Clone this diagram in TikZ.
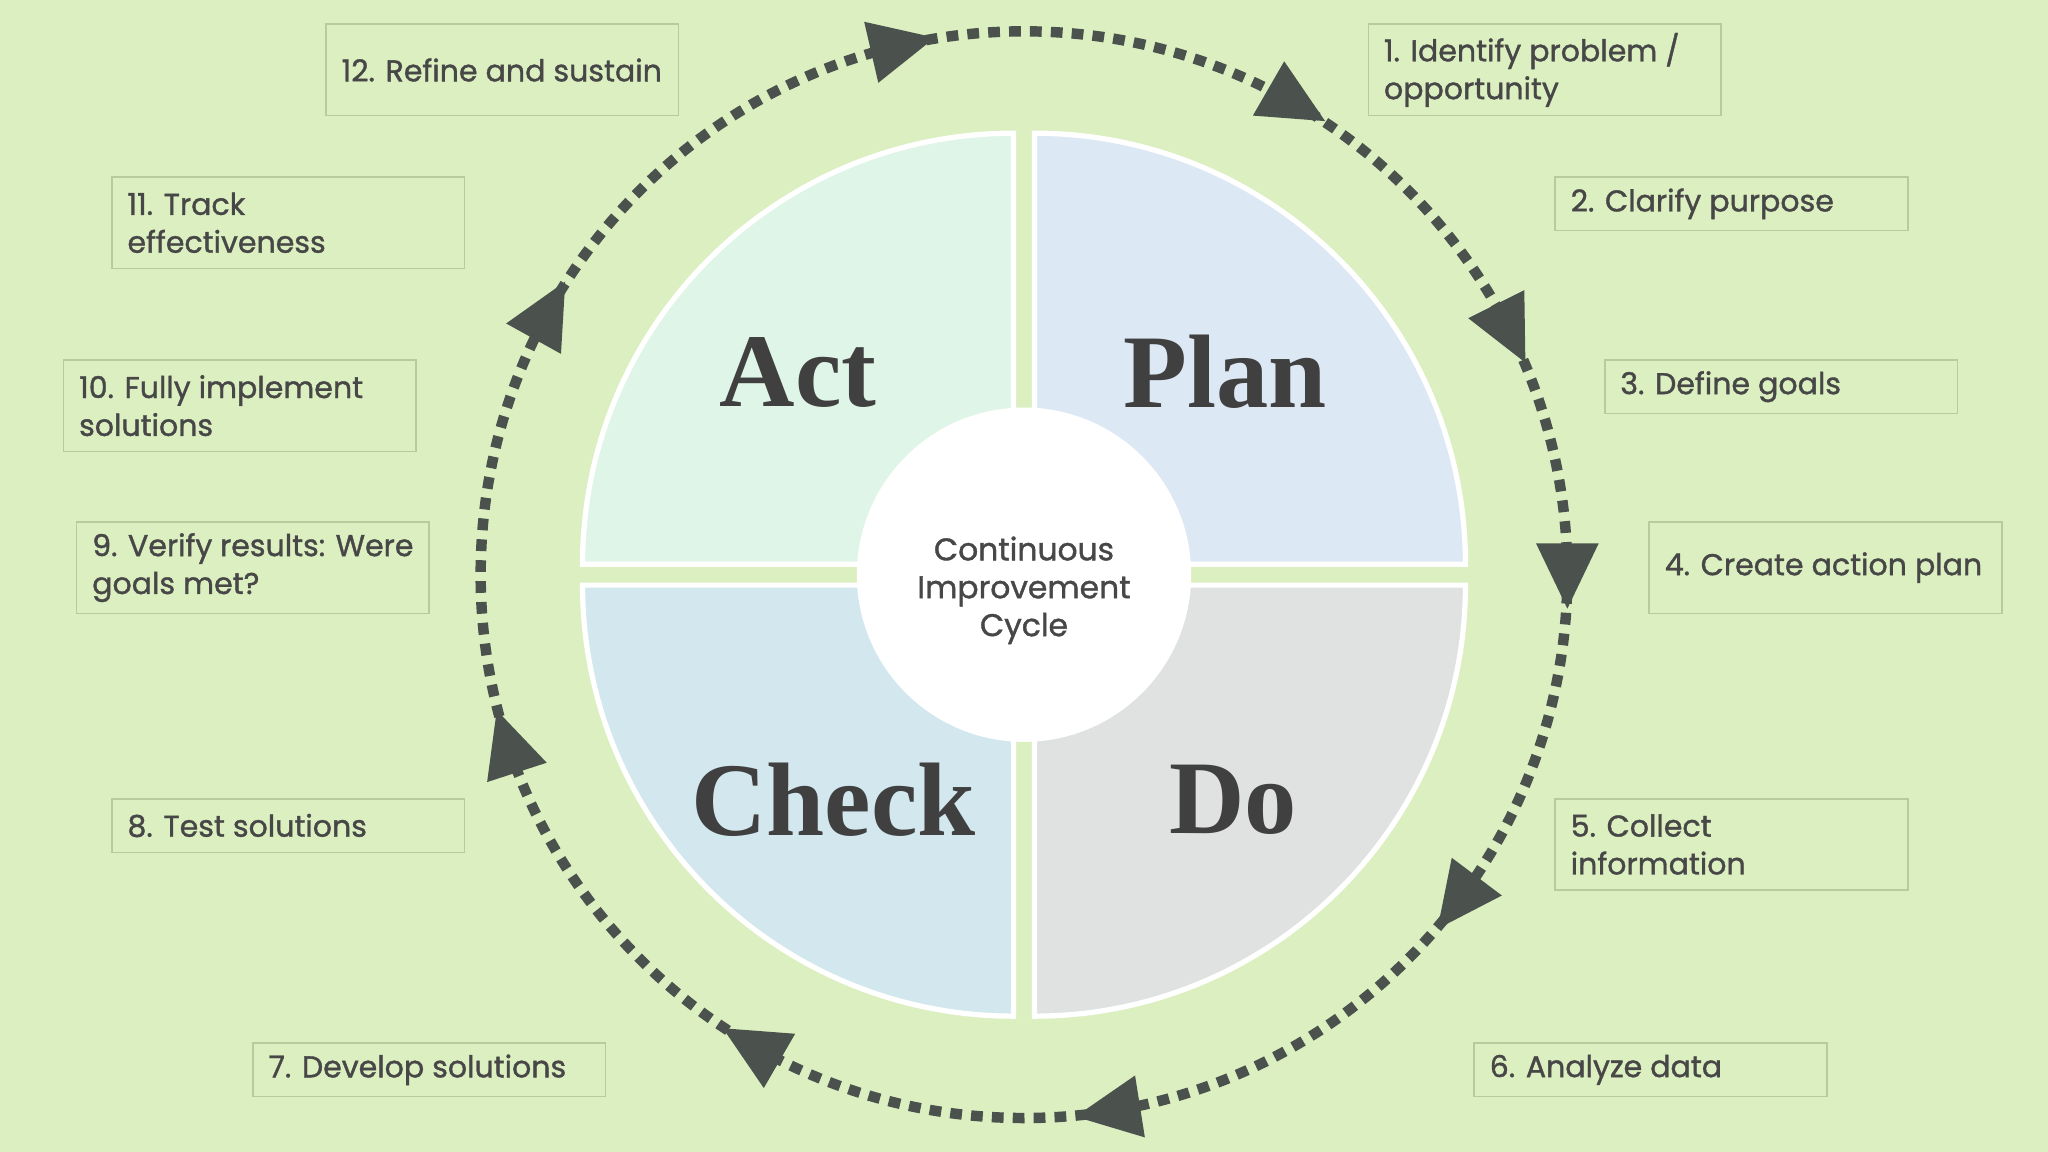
\documentclass[tikz,border=0pt]{standalone}
\usepackage{fontspec}
\setmainfont{Poppins}[FakeBold=1.2]
\newfontfamily\bigserif{Liberation Serif}
\usetikzlibrary{calc}
\definecolor{bg}{HTML}{DCEFC0}
\definecolor{planc}{HTML}{DDE8F5}
\definecolor{actc}{HTML}{DFF5E8}
\definecolor{checkc}{HTML}{D3E8EE}
\definecolor{doc}{HTML}{E0E2E2}
\definecolor{ringc}{HTML}{4B524D}
\definecolor{txt}{HTML}{474747}
\definecolor{boxline}{HTML}{B6CC9C}
\newcommand{\nohyph}{\hyphenpenalty=10000\relax\exhyphenpenalty=10000\relax}
\tikzset{
  lbl/.style={draw=boxline,line width=0.6pt,anchor=north west,text width=123pt,inner xsep=6pt,inner ysep=3pt,align=flush left,font=\fontsize{11.5}{14.5}\selectfont\nohyph,text=txt},
  quad/.style={draw=white,line width=2pt},
  big/.style={font=\bigserif\bfseries\fontsize{40}{40}\selectfont,text=txt!90!black},
}
\begin{document}
\begin{tikzpicture}[x=0.5pt,y=0.5pt]
\fill[bg] (0,0) rectangle (1568,882);
\useasboundingbox (0,0) rectangle (1568,882);
\coordinate (c) at (784,442);
% quadrants
\filldraw[quad,fill=planc] ($(c)+(8,8)$) -- ++(330,0) arc[start angle=0,end angle=90,radius=330] -- cycle;
\filldraw[quad,fill=actc] ($(c)+(-8,8)$) -- ++(0,330) arc[start angle=90,end angle=180,radius=330] -- cycle;
\filldraw[quad,fill=checkc] ($(c)+(-8,-8)$) -- ++(-330,0) arc[start angle=180,end angle=270,radius=330] -- cycle;
\filldraw[quad,fill=doc] ($(c)+(8,-8)$) -- ++(0,-330) arc[start angle=270,end angle=360,radius=330] -- cycle;
\fill[white] (c) circle (128);
\node[align=center,font=\fontsize{12}{14.5}\selectfont,text=txt] (center) at (784,430) {Continuous\\Improvement\\Cycle};
\node[big] (act) at (611,597) {Act};
\node[big] (plan) at (938,597) {Plan};
\node[big] (check) at (638,270) {Check};
\node[big] (do) at (944,270) {Do};
% ring
\draw[ringc,line width=4pt,dash pattern=on 4.5pt off 3.5pt] (c) circle (416);
\foreach \a in {103,60,26.5,0,-37,-81,-120,-162,151}{
  \begin{scope}[shift={($(c)+(\a:416)$)},rotate=\a-90]
    \fill[ringc] (26,0) -- (-24,24) -- (-24,-24) -- cycle;
  \end{scope}
}
% labels
\node[lbl,minimum height=35pt] (b12) at (249,864) {12. Refine and sustain};
\node[lbl,minimum height=35pt] (b1) at (1047,864) {1. Identify problem / opportunity};
\node[lbl,minimum height=35pt] (b11) at (85,747) {11. Track\\effectiveness};
\node[lbl,minimum height=20.5pt] (b2) at (1190,747) {2. Clarify purpose};
\node[lbl,minimum height=35pt] (b10) at (48,607) {10. Fully implement solutions};
\node[lbl,minimum height=20.5pt] (b3) at (1228,607) {3. Define goals};
\node[lbl,minimum height=35pt] (b9) at (58,483) {9. Verify results: Were goals met?};
\node[lbl,minimum height=35pt] (b4) at (1262,483) {4. Create action plan};
\node[lbl,minimum height=20.5pt] (b8) at (85,271) {8. Test solutions};
\node[lbl,minimum height=35pt] (b5) at (1190,271) {5. Collect information};
\node[lbl,minimum height=20.5pt] (b7) at (193,84) {7. Develop solutions};
\node[lbl,minimum height=20.5pt] (b6) at (1128,84) {6. Analyze data};
\end{tikzpicture}
\end{document}
